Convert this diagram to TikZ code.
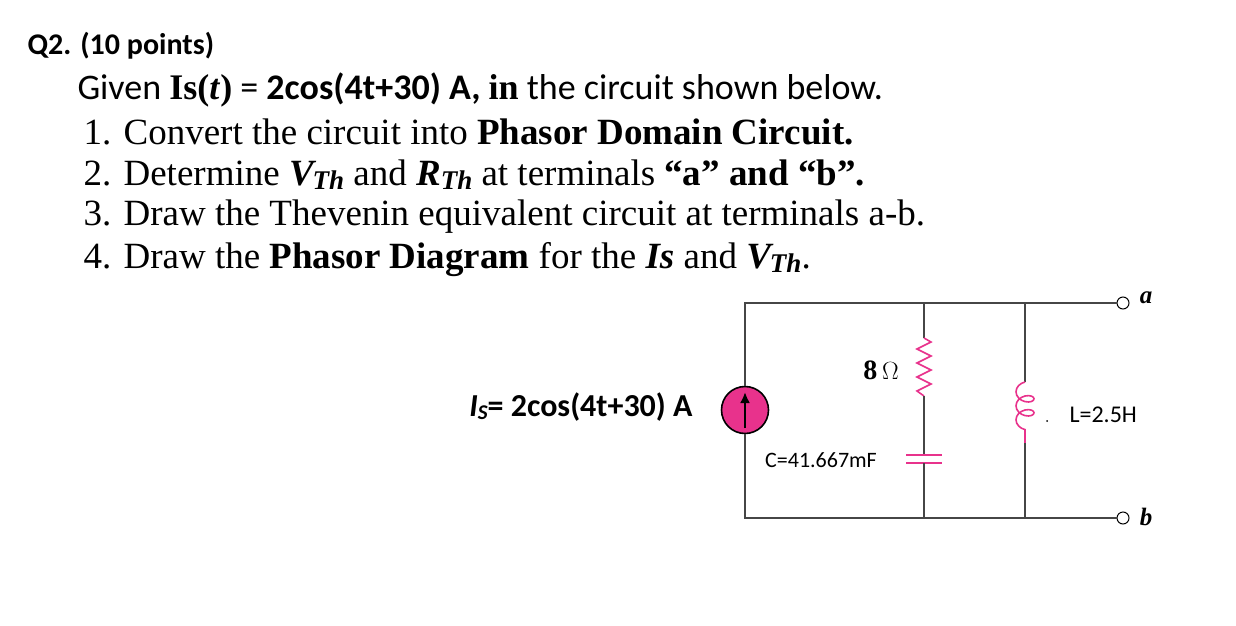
\documentclass[tikz,border=0pt]{standalone}
\usepackage{fontspec}
\setmainfont{Liberation Serif}
\newfontfamily\calfont{Carlito}
\usetikzlibrary{arrows.meta,decorations.pathmorphing}
\definecolor{pk}{RGB}{232,50,140}
\definecolor{wire}{RGB}{70,70,70}
\begin{document}
\begin{tikzpicture}[x=1pt,y=-1pt,
  wr/.style={draw=wire,line width=2pt},
  el/.style={draw=pk,line width=1.6pt},
  term/.style={circle,draw=black,line width=1pt,fill=white,inner sep=0pt,minimum size=12pt}]
\useasboundingbox (0,0) rectangle (1236,626);
% texts
\node[anchor=west,font=\calfont\bfseries\fontsize{30}{34}\selectfont] (q) at (24,46) {Q2. (10 points)};
\node[anchor=west,font=\calfont\fontsize{36}{40}\selectfont] (g) at (74,90) {Given {\rmfamily\bfseries Is(\textit{t})} = {\bfseries 2cos(4t+30) A,} {\rmfamily\bfseries in} the circuit shown below.};
\begin{scope}[every node/.style={anchor=west,font=\fontsize{37}{40}\selectfont}]
\node (l1) at (80,132) {1. Convert the circuit into \textbf{Phasor Domain Circuit.}};
\node (l2) at (80,175) {2. Determine \textbf{\textit{V\kern-1pt\raisebox{-4pt}{\fontsize{27}{28}\selectfont Th}}} and \textbf{\textit{R\raisebox{-4pt}{\fontsize{27}{28}\selectfont Th}}} at terminals \textbf{“a” and “b”.}};
\node (l3) at (80,217) {3. Draw the Thevenin equivalent circuit at terminals a-b.};
\node (l4) at (80,260) {4. Draw the \textbf{Phasor Diagram} for the \textbf{\textit{Is}} and \textbf{\textit{V\kern-1pt\raisebox{-4pt}{\fontsize{27}{28}\selectfont Th}}}.};
\end{scope}
% circuit coordinates
\coordinate (tl) at (745,303); \coordinate (bl) at (745,518);
\coordinate (rt) at (924,303); \coordinate (rb) at (924,518);
\coordinate (lt) at (1025,303); \coordinate (lb) at (1025,518);
\node[term] (ta) at (1123,303) {};
\node[term] (tb) at (1123,518) {};
\node[circle,draw=black,line width=1.6pt,fill=pk,minimum size=47pt,inner sep=0pt] (src) at (745,410) {};
\draw[wr] (src.north) -- (tl) -- (ta.west);
\draw[wr] (src.south) -- (bl) -- (tb.west);
% resistor branch
\draw[wr] (rt) -- (924,338);
\draw[el] (924,338) -- (931,342) -- (917,349) -- (931,356) -- (917,363) -- (931,370) -- (917,377) -- (931,384) -- (917,391) -- (924,396);
\draw[wr] (924,396) -- (924,455);
\draw[el] (906,455) -- (942,455) (906,463) -- (942,463);
\draw[wr] (924,463) -- (rb);
% inductor
\draw[wr] (lt) -- (1025,382);
\draw[el,decorate,decoration={coil,aspect=0.7,segment length=14pt,amplitude=9pt,mirror}] (1025,382) -- (1025,443);
\draw[wr] (1025,443) -- (lb);
% source arrow
\draw[black,line width=2.6pt,-{Latex[length=11pt,width=10pt]}] (745,428) -- (745,392);
% labels
\node[font=\calfont\bfseries\fontsize{32}{34}\selectfont,anchor=east] (is) at (696,407) {\textit{I\raisebox{-3pt}{\fontsize{21}{22}\selectfont S}}= 2cos(4t+30) A};
\node[font=\bfseries\fontsize{28}{30}\selectfont] (r8) at (881,370) {8\,$\Omega$};
\node[font=\calfont\fontsize{22}{24}\selectfont] (cl) at (821,460) {C=41.667mF};
\node[font=\calfont\fontsize{24}{26}\selectfont,anchor=west] (ll) at (1066,415) {L=2.5H};
\fill (1047,421) circle (1pt);
\node[font=\bfseries\itshape\fontsize{25}{26}\selectfont] (la) at (1146,298) {a};
\node[font=\bfseries\itshape\fontsize{25}{26}\selectfont] (lb2) at (1146,517) {b};
\end{tikzpicture}
\end{document}
